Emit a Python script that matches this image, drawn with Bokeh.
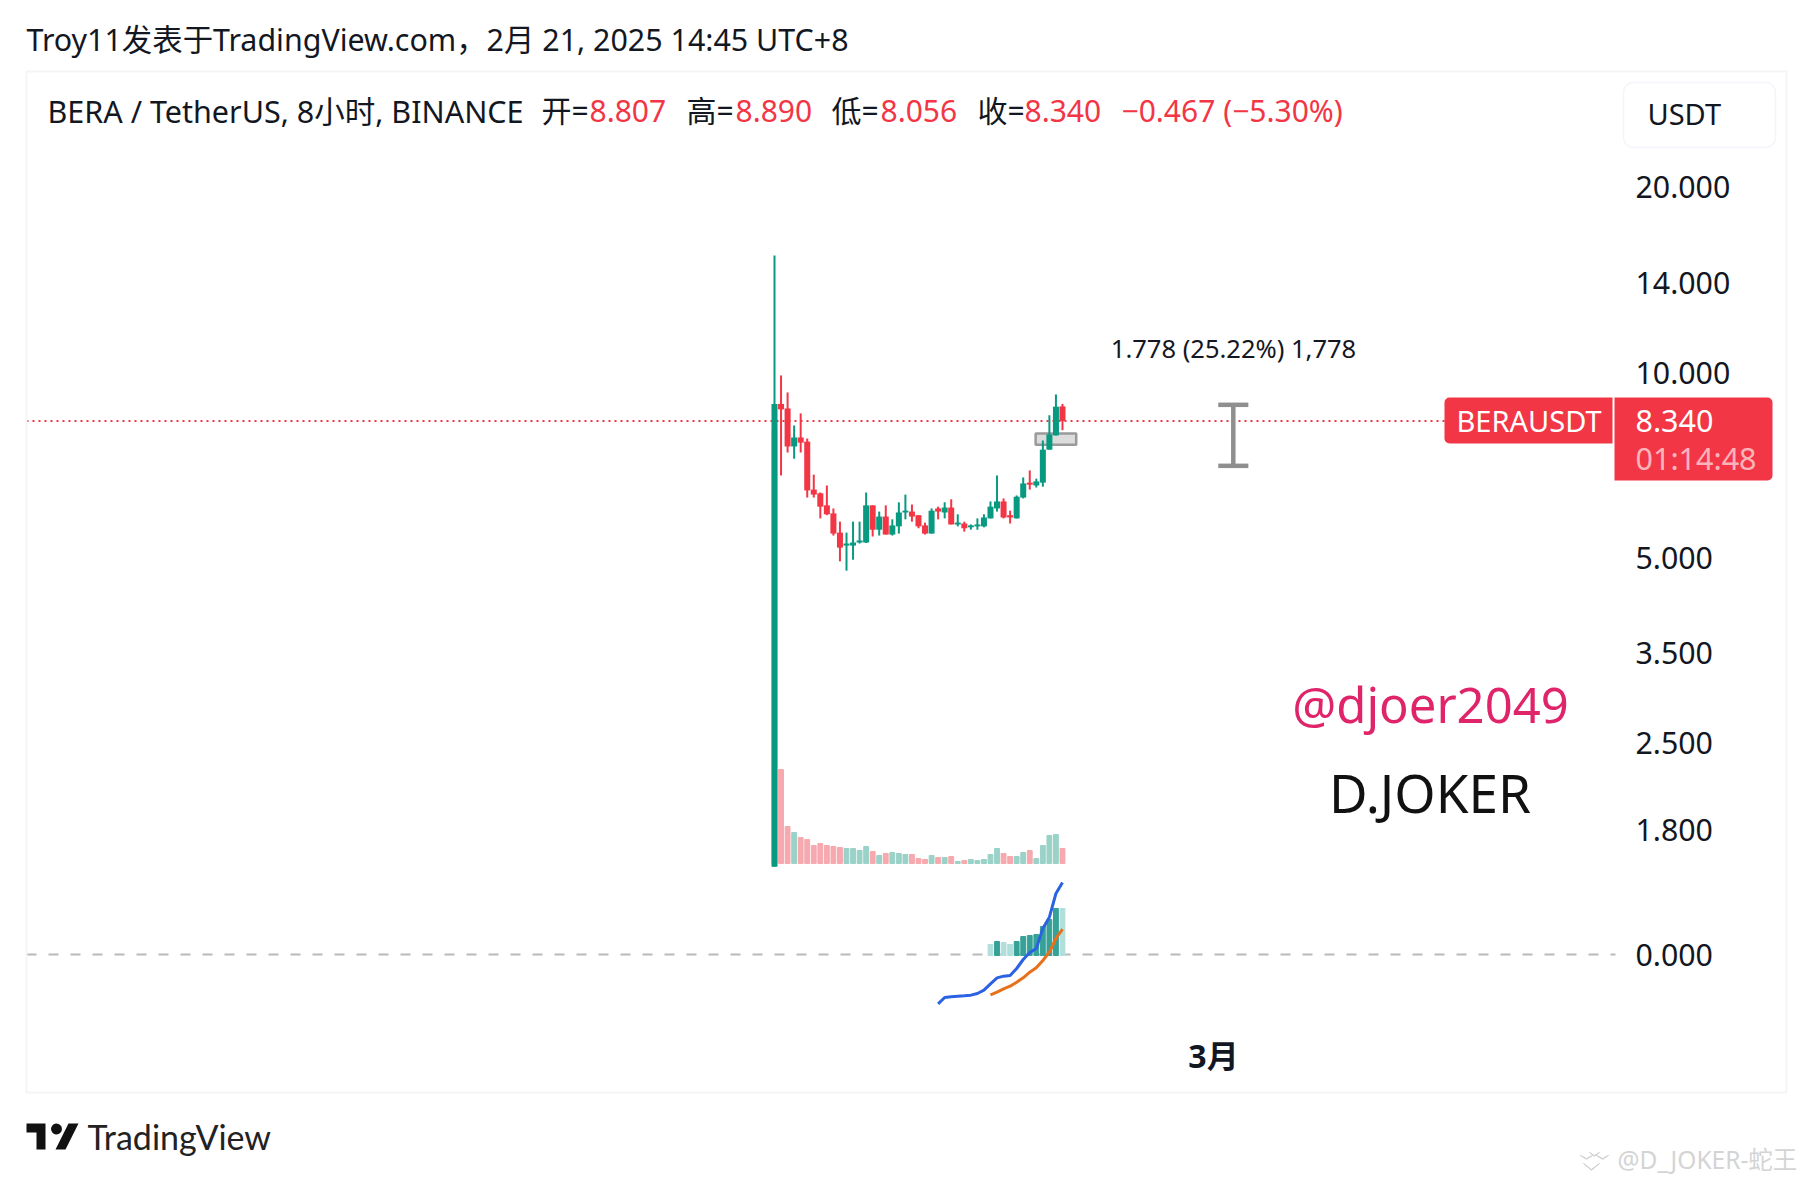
import numpy as np
from bokeh.embed import file_html
from bokeh.resources import INLINE
from bokeh.plotting import figure
from bokeh.models import (BoxAnnotation, ColumnDataSource, FixedTicker, Label, LinearScale, PolyAnnotation,
                          PrintfTickFormatter, Range1d)

# ---------- data ----------
highs = [15.5, 9.89, 9.28, 8.20, 8.58, 7.81, 6.82, 6.38, 6.55, 6.01, 5.72, 5.49, 5.72, 5.72, 6.38,
         6.08, 5.94, 6.08, 5.77, 6.15, 6.33, 6.10, 5.86, 5.70, 6.01, 6.05, 6.15, 6.22, 5.88, 5.72,
         5.66, 5.79, 5.88, 6.17, 6.80, 6.24, 5.96, 6.31, 6.75, 6.93, 6.72, 7.75, 8.52, 9.21, 8.890]
opens = [1.57, 8.89, 8.74, 7.58, 7.84, 7.72, 6.45, 6.36, 6.08, 5.90, 5.49, 5.23, 5.23, 5.29, 5.29,
         6.08, 5.55, 5.83, 5.45, 5.62, 5.92, 5.94, 5.86, 5.64, 5.47, 6.01, 5.92, 6.03, 5.66, 5.68,
         5.60, 5.62, 5.62, 5.79, 6.01, 6.17, 5.86, 5.79, 6.26, 6.62, 6.55, 6.62, 7.49, 7.90, 8.807]
closes = [8.89, 8.71, 7.58, 7.84, 7.69, 6.43, 6.33, 6.05, 5.88, 5.47, 5.19, 5.27, 5.29, 5.33, 6.08,
          5.55, 5.83, 5.45, 5.64, 5.92, 5.96, 5.83, 5.62, 5.47, 5.96, 5.94, 6.03, 5.66, 5.70, 5.58,
          5.64, 5.66, 5.81, 6.05, 6.17, 5.81, 5.81, 6.28, 6.60, 6.57, 6.65, 7.49, 7.93, 8.80, 8.340]
lows = [1.57, 6.80, 7.41, 7.24, 7.41, 6.26, 6.26, 5.79, 5.86, 5.43, 4.93, 4.76, 4.96, 5.27, 5.28,
        5.41, 5.43, 5.45, 5.43, 5.47, 5.77, 5.72, 5.58, 5.45, 5.47, 5.77, 5.79, 5.66, 5.62, 5.51,
        5.55, 5.55, 5.60, 5.79, 5.94, 5.79, 5.68, 5.79, 6.24, 6.45, 6.50, 6.52, 7.49, 7.90, 8.056]
volumes = [1300, 282, 111, 93, 78, 72, 54, 60, 54, 51, 48, 45, 45, 39, 51, 36, 24, 30, 33, 30, 27, 27, 15,
           12, 24, 18, 18, 21, 6, 9, 12, 9, 12, 27, 45, 30, 21, 21, 33, 39, 15, 54, 84, 87, 45]
macd_line = [-.296, -.258, -.254, -.250, -.248, -.244, -.234, -.214, -.176, -.140, -.130, -.126, -.084,
             -.030, .012, .036, .156, .224, .366, .432]
signal_line = [-.242, -.226, -.206, -.190, -.166, -.140, -.106, -.080, -.036, .014, .096, .152]
macd_hist = [.060, .078, .072, .060, .078, .108, .114, .120, .168, .210, .276, .276]
hist_rising = [False, True, False, False, True, True, True, True, True, True, True, False]
price_ticks = [1.8, 2.5, 3.5, 5.0, 10.0, 14.0, 20.0]
last_price = 8.340
ruler_bar = 70.1
ruler_low, ruler_high = 7.05, 8.86
box_left, box_right, box_low, box_high = 39.9, 46.1, 7.63, 7.96

GREEN, RED = "#089981", "#f23645"
INK = "#131722"
FONT = "'Noto Sans', 'Noto Sans CJK SC'"

# ---------- layout (frame = whole canvas, page pixels) ----------
W, H = 1803, 1175
FL, FR = 26, 1615
BAR0, BAR_STEP = 774, 6.545
Y10, PX_PER_LN = 372, 267
VOL0, VOL_PX = 863, 1 / 3
MACD0, MACD_PX = 954, 1 / 0.006


def bar_at(px):
    return (px - BAR0) / BAR_STEP


n = len(closes)
idx = np.arange(n)
up = [c >= o for o, c in zip(opens, closes)]

p = figure(frame_width=W, frame_height=H, output_backend="svg", toolbar_location=None,
           y_axis_type="log", y_axis_location="right",
           x_range=Range1d(bar_at(0), bar_at(W)),
           y_range=Range1d(10 * np.exp((Y10 - H) / PX_PER_LN), 10 * np.exp(Y10 / PX_PER_LN)),
           min_border_left=0, min_border_top=0, min_border_right=0, min_border_bottom=0)
p.extra_y_ranges = {
    "vol": Range1d(-(H - VOL0) / VOL_PX, VOL0 / VOL_PX),
    "macd": Range1d(-(H - MACD0) / MACD_PX, MACD0 / MACD_PX),
}
p.extra_y_scales = {"vol": LinearScale(), "macd": LinearScale()}

p.outline_line_color = None
p.background_fill_color = "white"
p.border_fill_color = "white"
p.xgrid.visible = False
p.ygrid.visible = False
p.xaxis.visible = False
ax = p.yaxis[0]
ax.ticker = FixedTicker(ticks=price_ticks)
ax.formatter = PrintfTickFormatter(format="%.3f")
ax.axis_line_color = None
ax.major_tick_line_color = None
ax.minor_tick_line_color = None
ax.major_label_standoff = 1629 - W
ax.major_label_text_font = FONT
ax.major_label_text_font_size = "30.3px"
ax.major_label_text_color = INK

# ---------- marks ----------
p.segment(x0=[bar_at(FL)], x1=[bar_at(1446)], y0=[last_price], y1=[last_price], line_color=RED, line_width=2,
          line_dash="2 4")
p.segment(x0=[bar_at(FL)], x1=[bar_at(FR)], y0=[0], y1=[0], y_range_name="macd", line_color="#b9b9b9", line_width=2,
          line_dash="10 12")

vol_src = ColumnDataSource(dict(x=idx, top=volumes,
                                color=["#9ad2c8" if u else "#f6a9ae" for u in up]))
p.vbar(x="x", top="top", bottom=0, width=0.74, color="color", source=vol_src, y_range_name="vol")

hist_src = ColumnDataSource(dict(x=idx[n - len(macd_hist):], top=macd_hist,
                                 color=["#36a197" if r else "#b2dfdb" for r in hist_rising]))
p.vbar(x="x", top="top", bottom=-0.006, width=0.74, color="color", source=hist_src, y_range_name="macd")
p.line(idx[n - len(macd_line):], macd_line, line_color="#2b62e3", line_width=3, y_range_name="macd")
p.line(idx[n - len(signal_line):], signal_line, line_color="#e8701a", line_width=3, y_range_name="macd")

p.quad(left=[box_left], right=[box_right], bottom=[box_low], top=[box_high],
       fill_color="#dcdcdc", line_color="#9a9a9a", line_width=2.5)

cs = ColumnDataSource(dict(x=idx, high=highs, low=lows,
                           top=[max(o, c) for o, c in zip(opens, closes)],
                           bottom=[min(o, c) for o, c in zip(opens, closes)],
                           color=[GREEN if u else RED for u in up]))
p.segment(x0="x", x1="x", y0="low", y1="high", line_color="color", line_width=2, source=cs)
p.vbar(x="x", top="top", bottom="bottom", width=0.92, fill_color="color", line_color=None, source=cs)

# ruler cursor
p.segment(x0=[ruler_bar], x1=[ruler_bar], y0=[ruler_low], y1=[ruler_high], line_color="#8f8f8f", line_width=4.5)
p.segment(x0=[ruler_bar - 2.3] * 2, x1=[ruler_bar + 2.3] * 2, y0=[ruler_low, ruler_high], y1=[ruler_low, ruler_high],
          line_color="#8f8f8f", line_width=4.5)


# ---------- page furniture ----------
def txt(x, y, text, size=30, color=INK, align="left", style="normal", font=FONT, alpha=1.0):
    p.add_layout(Label(x=x, y=y, x_units="canvas", y_units="canvas", text=text, text_font=font,
                       text_font_size=f"{size}px", text_color=color, text_align=align, text_baseline="middle",
                       text_font_style=style, text_alpha=alpha))


def box(l, r, t, b, fill=None, line=None, width=1, radius=0):
    p.add_layout(BoxAnnotation(left=l, right=r, top=t, bottom=b,
                               left_units="canvas", right_units="canvas", top_units="canvas", bottom_units="canvas",
                               fill_color=fill, fill_alpha=1 if fill else 0, line_color=line,
                               line_alpha=1 if line else 0, line_width=width, border_radius=radius))


def poly(xs, ys, fill=None, line=None, width=1):
    p.add_layout(PolyAnnotation(xs=list(map(float, xs)), ys=list(map(float, ys)), xs_units="canvas", ys_units="canvas",
                                fill_color=fill, fill_alpha=1 if fill else 0, line_color=line,
                                line_alpha=1 if line else 0, line_width=width))


box(26, 1786, 71, 1092, line="#f5f5f5", width=2)
box(1623, 1775, 82, 147, fill="white", line="#f3f5fa", width=1.5, radius=10)
box(1444, 1612, 397, 443, fill=RED, radius=(5, 0, 0, 5))
box(1614, 1772, 397, 480, fill=RED, radius=(0, 5, 5, 0))

txt(26, 39, "Troy11发表于TradingView.com，2月 21, 2025 14:45 UTC+8", size=30.4)
txt(47, 110, "BERA / TetherUS, 8小时, BINANCE", size=30.5)
txt(541, 110, "开=")
txt(589, 110, "8.807", color=RED)
txt(686, 110, "高=")
txt(735, 110, "8.890", color=RED)
txt(831, 110, "低=")
txt(880, 110, "8.056", color=RED)
txt(977, 110, "收=")
txt(1024, 110, "8.340", color=RED)
txt(1121, 110, "−0.467 (−5.30%)", color=RED)
txt(1647, 113, "USDT", size=29)
txt(1456, 420, "BERAUSDT", size=29, color="white")
txt(1635, 420, "8.340", size=30.5, color="white")
txt(1635, 457, "01:14:48", size=30.5, color="white", alpha=0.65)
txt(1635, 954, "0.000", size=30.3)
txt(1233, 347, "1.778 (25.22%) 1,778", size=25.5, align="center")
txt(1430, 703.5, "@djoer2049", size=49, color="#e0246a", align="center")
txt(1429.5, 791.5, "D.JOKER", size=53, color="#111111", align="center")
txt(1213, 1055, "3月", size=32, style="bold", align="center")
txt(87, 1136, "TradingView", size=34, color="#222222", font="Lato")
txt(1617, 1159, "@D_JOKER-蛇王", size=24.5, color="#d4d4d4")

# TradingView logo
poly([26, 45, 45, 36, 36, 26], [1123, 1123, 1149, 1149, 1132, 1132], fill="#111111")
poly([78, 65, 55, 68], [1123, 1149, 1149, 1123], fill="#111111")
theta = np.linspace(0, 2 * np.pi, 28)
poly(56 + 5.4 * np.cos(theta), 1128.5 + 5.4 * np.sin(theta), fill="#111111")

# watermark mark
for x0, dx, yy, dy in [(1586, 6, 1155, 3), (1594, 5, 1152, 3), (1602, 6, 1155, 3), (1591, 8, 1163, 6)]:
    poly([x0 - dx, x0, x0 + dx, x0], [yy, yy + dy, yy, yy + dy + 0.8], line="#cfcfcf", width=1)

open("out.html", "w").write(file_html(p, INLINE))
